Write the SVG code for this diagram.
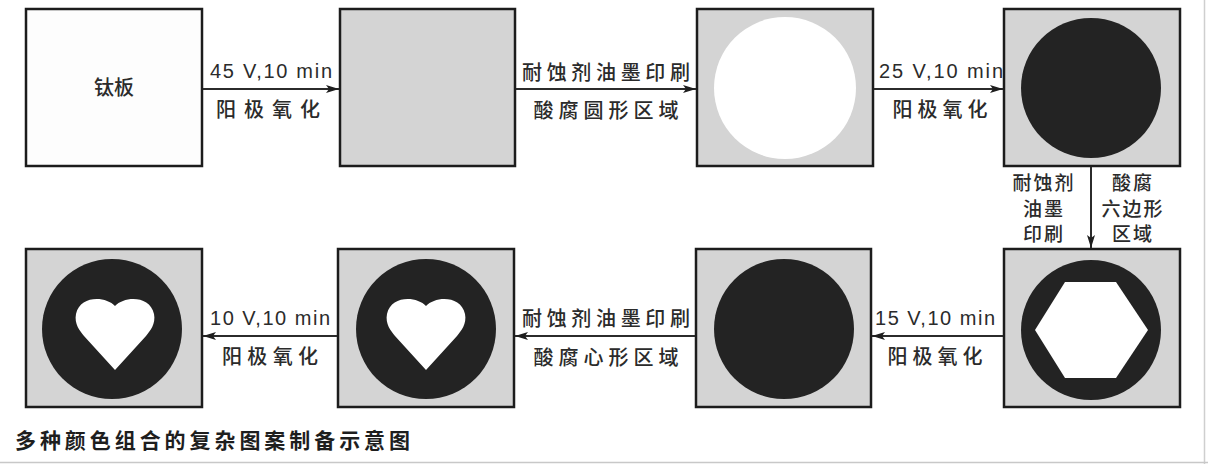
<svg xmlns="http://www.w3.org/2000/svg" width="1208" height="464" viewBox="0 0 1208 464">
  <style>
    .box { stroke: #1c1c1c; stroke-width: 2.5; }
    .white { fill: #fdfdfd; }
    .gray { fill: #d4d4d4; }
    .dark { fill: #232323; }
    .hole { fill: #ffffff; }
    .lbl { font-family: "Liberation Sans", "Noto Sans CJK SC", sans-serif; font-size: 20px; fill: #2b2b2b; text-anchor: middle; }
    .cn { font-family: "Noto Sans CJK SC", sans-serif; font-size: 20px; fill: #2b2b2b; text-anchor: middle; font-weight: 500; }
    .cnv { font-family: "Noto Sans CJK SC", sans-serif; font-size: 19px; letter-spacing: 2px; fill: #2b2b2b; text-anchor: middle; font-weight: 500; }
    .conn line { stroke: #2b2b2b; stroke-width: 2; fill: none; }
    .cap { font-family: "Noto Sans CJK SC", sans-serif; font-size: 21px; font-weight: 700; fill: #1e1e1e; }
  </style>
  <defs>
    <marker id="ah" markerUnits="userSpaceOnUse" markerWidth="14" markerHeight="10" refX="13" refY="5" orient="auto">
      <path d="M0,1 L13,5 L0,9 L3,5 Z" fill="#1e1e1e"/>
    </marker>
    <path id="heart" d="M0,-23 C-9,-33 -35,-34 -39,-15 C-41,-5 -35,2 -31,7 L0,41 L31,7 C35,2 41,-5 39,-15 C35,-34 9,-33 0,-23 Z"/>
  </defs>
  <rect width="1208" height="464" fill="#ffffff"/>
  <line x1="1204.5" y1="0" x2="1204.5" y2="464" stroke="#cfcfcf" stroke-width="1.5"/>
  <line x1="0" y1="462.5" x2="1208" y2="462.5" stroke="#c8c8c8" stroke-width="1.5"/>

  <!-- Top row -->
  <g id="node-titanium">
    <rect class="box white" x="26" y="9" width="176" height="157"/>
    <text class="cn" x="114" y="95">钛板</text>
  </g>
  <g id="node-anodized1">
    <rect class="box gray" x="340" y="9" width="175" height="157"/>
  </g>
  <g id="node-white-circle">
    <rect class="box gray" x="697" y="9" width="176" height="157"/>
    <circle class="hole" cx="785" cy="88" r="71"/>
  </g>
  <g id="node-black-circle">
    <rect class="box gray" x="1004" y="9" width="176" height="157"/>
    <circle class="dark" cx="1091" cy="88" r="70"/>
  </g>

  <!-- Bottom row -->
  <g id="node-hexagon">
    <rect class="box gray" x="1004" y="249" width="176" height="158"/>
    <circle class="dark" cx="1091" cy="330" r="70"/>
    <polygon class="hole" points="1065,282 1116,282 1148,330 1116,378 1065,378 1035,330"/>
  </g>
  <g id="node-black-circle-2">
    <rect class="box gray" x="696" y="249" width="175" height="158"/>
    <circle class="dark" cx="784" cy="329" r="70"/>
  </g>
  <g id="node-heart-1">
    <rect class="box gray" x="338" y="249" width="176" height="158"/>
    <circle class="dark" cx="426" cy="329" r="70"/>
    <use href="#heart" x="426" y="329" class="hole"/>
  </g>
  <g id="node-heart-2">
    <rect class="box gray" x="26" y="249" width="176" height="158"/>
    <circle class="dark" cx="112" cy="329" r="70"/>
    <use href="#heart" x="115" y="329" class="hole"/>
  </g>

  <!-- Connectors -->
  <g id="connectors" class="conn">
    <line x1="203" y1="89" x2="339" y2="89" marker-end="url(#ah)"/>
    <line x1="516" y1="89" x2="696" y2="89" marker-end="url(#ah)"/>
    <line x1="874" y1="89" x2="1003" y2="89" marker-end="url(#ah)"/>
    <line x1="1091" y1="167" x2="1091" y2="248" marker-end="url(#ah)"/>
    <line x1="1003" y1="336" x2="872" y2="336" marker-end="url(#ah)"/>
    <line x1="695" y1="336" x2="515" y2="336" marker-end="url(#ah)"/>
    <line x1="337" y1="336" x2="203" y2="336" marker-end="url(#ah)"/>
  </g>

  <!-- Connector labels -->
  <g id="labels">
    <text class="lbl" x="271" y="78" textLength="122" lengthAdjust="spacing">45 V,10 min</text>
    <text class="cn" x="268" y="117" textLength="104" lengthAdjust="spacing">阳极氧化</text>

    <text class="cn" x="606" y="80" textLength="168" lengthAdjust="spacing">耐蚀剂油墨印刷</text>
    <text class="cn" x="606" y="118" textLength="145" lengthAdjust="spacing">酸腐圆形区域</text>

    <text class="lbl" x="941" y="78" textLength="124" lengthAdjust="spacing">25 V,10 min</text>
    <text class="cn" x="940" y="117" textLength="95" lengthAdjust="spacing">阳极氧化</text>

    <text class="cnv" x="1044" y="190">耐蚀剂</text>
    <text class="cnv" x="1044" y="216">油墨</text>
    <text class="cnv" x="1044" y="241">印刷</text>
    <text class="cnv" x="1133" y="190">酸腐</text>
    <text class="cnv" x="1133" y="216">六边形</text>
    <text class="cnv" x="1133" y="241">区域</text>

    <text class="lbl" x="935" y="325" textLength="120" lengthAdjust="spacing">15 V,10 min</text>
    <text class="cn" x="935" y="364" textLength="95" lengthAdjust="spacing">阳极氧化</text>

    <text class="cn" x="606" y="326" textLength="168" lengthAdjust="spacing">耐蚀剂油墨印刷</text>
    <text class="cn" x="606" y="365" textLength="145" lengthAdjust="spacing">酸腐心形区域</text>

    <text class="lbl" x="270" y="325" textLength="120" lengthAdjust="spacing">10 V,10 min</text>
    <text class="cn" x="270" y="364" textLength="96" lengthAdjust="spacing">阳极氧化</text>
  </g>

  <text class="cap" x="15" y="448" textLength="395" lengthAdjust="spacing">多种颜色组合的复杂图案制备示意图</text>
</svg>
